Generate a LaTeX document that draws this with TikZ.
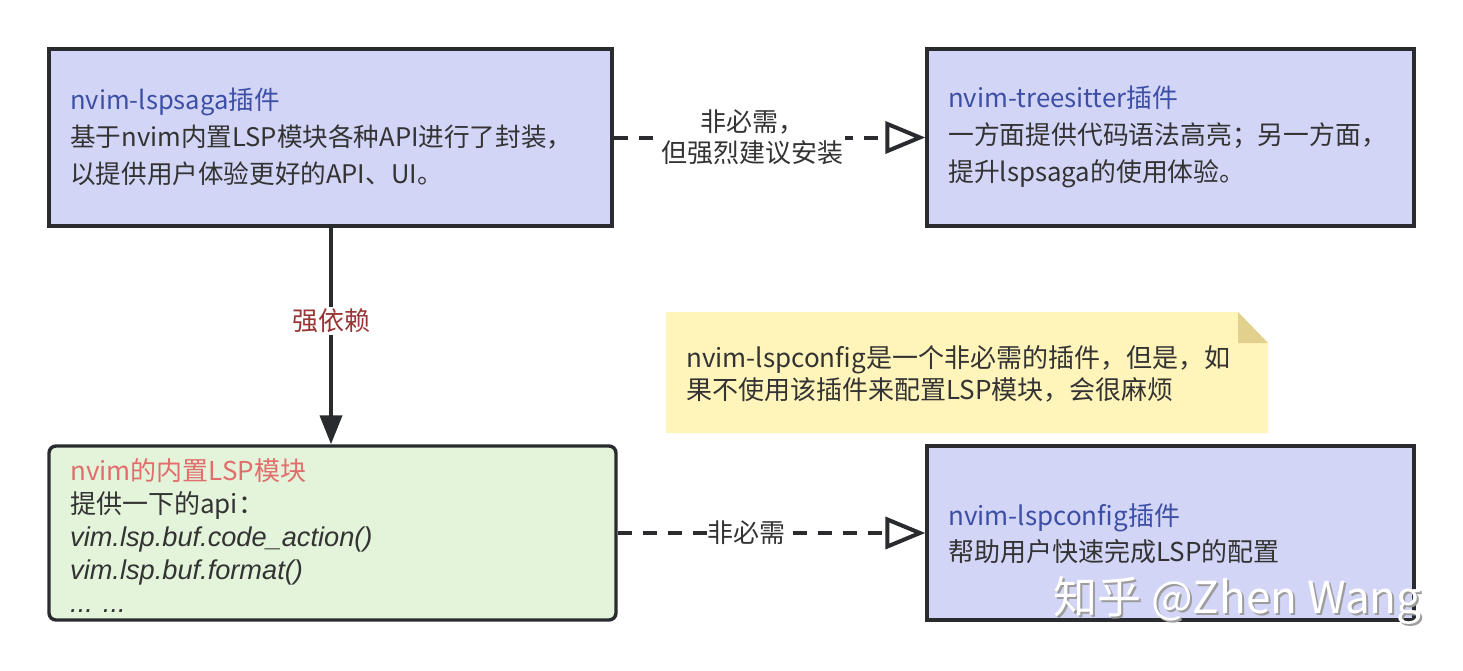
\documentclass[tikz,border=0pt]{standalone}
\usepackage{fontspec}
\setmainfont{Noto Sans CJK SC}
\newfontfamily\itfont{Liberation Sans}
\usetikzlibrary{arrows.meta}
\definecolor{boxblue}{HTML}{D2D5F6}
\definecolor{boxgreen}{HTML}{E3F4DA}
\definecolor{noteyellow}{HTML}{FFF4BA}
\definecolor{notefold}{HTML}{E2D08E}
\definecolor{linec}{HTML}{2A2B2E}
\definecolor{titleblue}{HTML}{3C4FA5}
\definecolor{titlered}{HTML}{E26D6D}
\definecolor{labred}{HTML}{9A3535}
\definecolor{txt}{HTML}{333333}
\definecolor{wmshadow}{HTML}{9C9C9C}
\tikzset{
  bluebox/.style={draw=linec, line width=3.4pt, fill=boxblue, inner sep=0pt},
  greenbox/.style={draw=linec, line width=3.4pt, fill=boxgreen, rounded corners=7pt, inner sep=0pt},
  boxtext/.style={anchor=west, align=left, inner sep=0pt, text=txt},
  dasharrow/.style={draw=linec, line width=4pt, dash pattern=on 14pt off 11pt,
    -{Triangle[open, length=40pt, width=32pt, fill=white]}},
  solidarrow/.style={draw=linec, line width=4pt, -{Triangle[length=29pt, width=22pt]}},
  edgelabel/.style={fill=white, inner sep=2pt, text=txt, align=center, font=\fontsize{26}{31}\selectfont},
}
\newcommand{\codeline}[1]{{\itfont\itshape\fontsize{27.2}{33}\selectfont #1}}
\begin{document}
\begin{tikzpicture}[x=1pt, y=-1pt]
\useasboundingbox[fill=white] (0,0) rectangle (1463,670);

% boxes
\node[bluebox, minimum width=563pt, minimum height=177pt] (A) at (330.5,137.5) {};
\node[bluebox, minimum width=487pt, minimum height=177pt] (B) at (1170.5,137.5) {};
\node[greenbox, minimum width=567pt, minimum height=174pt] (C) at (332.5,533) {};
\node[bluebox, minimum width=487pt, minimum height=174pt] (D) at (1170.5,533) {};

% note
\fill[noteyellow] (666,312) -- (1238,312) -- (1268,343) -- (1268,433) -- (666,433) -- cycle;
\fill[notefold] (1238,312) -- (1238,343) -- (1268,343) -- cycle;
\node[boxtext, font=\fontsize{26}{32}\selectfont] (N) at (686,374)
  {nvim-lspconfig是一个非必需的插件，但是，如\\果不使用该插件来配置LSP模块，会很麻烦};

% box texts
\node[boxtext, font=\fontsize{25.6}{37}\selectfont] (At) at (70,137)
  {\textcolor{titleblue}{nvim-lspsaga插件}\\基于nvim内置LSP模块各种API进行了封装，\\以提供用户体验更好的API、UI。};
\node[boxtext, font=\fontsize{25.8}{37}\selectfont] (Bt) at (948,137)
  {\textcolor{titleblue}{nvim-treesitter插件}\\一方面提供代码语法高亮；另一方面，\\提升lspsaga的使用体验。};
\node[boxtext, font=\fontsize{26}{33}\selectfont] (Ct) at (70,536)
  {\textcolor{titlered}{nvim的内置LSP模块}\\提供一下的api：\\\codeline{vim.lsp.buf.code\_action()}\\\codeline{vim.lsp.buf.format()}\\\codeline{... ...}};
\node[boxtext, font=\fontsize{26}{36}\selectfont] (Dt) at (948,534)
  {\textcolor{titleblue}{nvim-lspconfig插件}\\帮助用户快速完成LSP的配置};

% connectors
\draw[dasharrow] (A.east) -- (B.west)
  node[edgelabel, pos=0.444] (L1) {非必需，\\但强烈建议安装};
\draw[solidarrow] (A.south -| 331,0) -- (C.north -| 331,0)
  node[edgelabel, text=labred, pos=0.43] (L2) {强依赖};
\draw[dasharrow] (C.east) -- (D.west)
  node[edgelabel, pos=0.42, inner sep=1pt] (L3) {非必需};

% watermark
\node[font=\fontsize{44}{44}\selectfont, text=wmshadow, anchor=east] (W0) at (1427,602) {知乎 @Zhen Wang};
\node[font=\fontsize{44}{44}\selectfont, text=white, anchor=east] (W) at (1425,600) {知乎 @Zhen Wang};
\end{tikzpicture}
\end{document}
